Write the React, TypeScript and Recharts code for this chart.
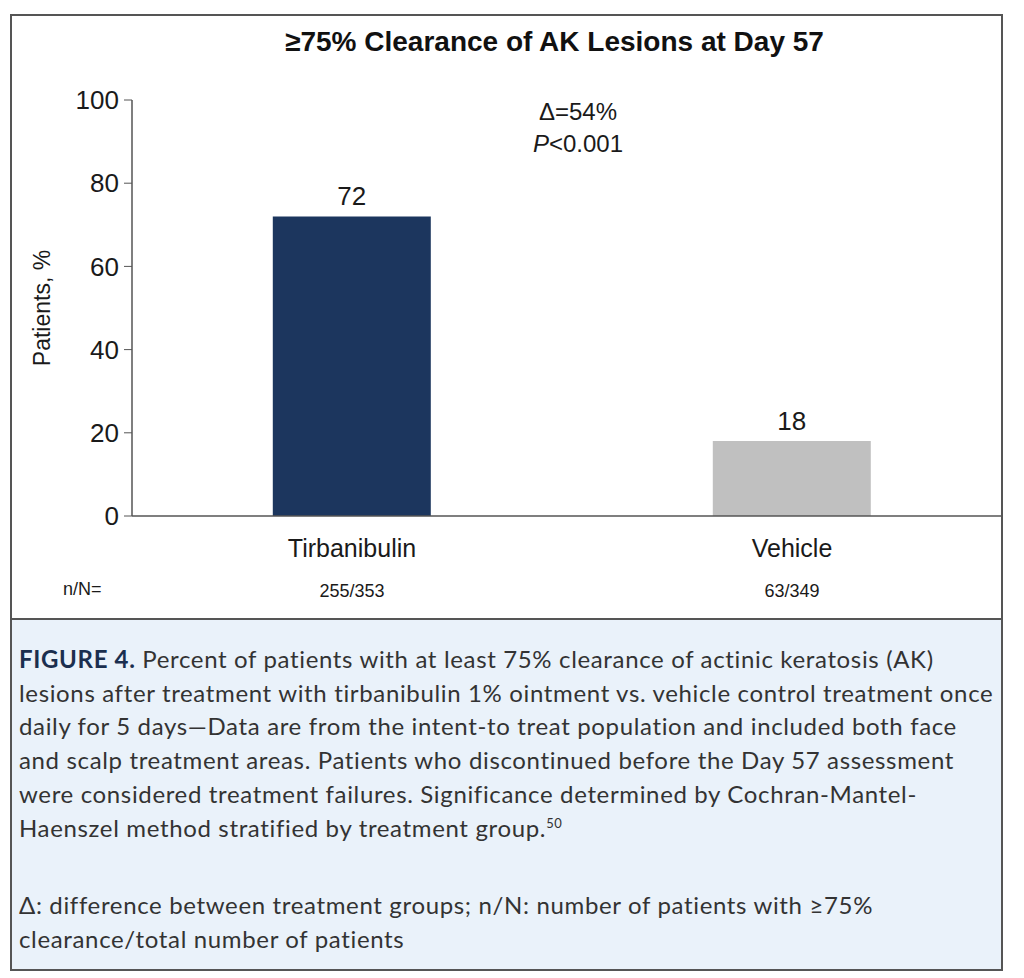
import React from 'react';
import { BarChart, Bar, XAxis, YAxis, Cell, LabelList } from 'recharts';

const categories = ['Tirbanibulin', 'Vehicle'];
const percentValues = [72, 18];
const nOverN = ['255/353', '63/349'];
const barColors = ['#1c365e', '#c0c0c0'];
const yTicks = [0, 20, 40, 60, 80, 100];

const captionLines = [
  'lesions after treatment with tirbanibulin 1% ointment vs. vehicle control treatment once',
  'daily for 5 days\u2014Data are from the intent-to treat population and included both face',
  'and scalp treatment areas. Patients who discontinued before the Day 57 assessment',
  'were considered treatment failures. Significance determined by Cochran-Mantel-',
];
const footLines = [
  '\u0394: difference between treatment groups; n/N: number of patients with \u226575%',
  'clearance/total number of patients',
];

const data = categories.map((name, i) => ({ name, value: percentValues[i], nn: nOverN[i] }));

const arial = 'Arial, "Liberation Sans", sans-serif';
const capFont = 'Lato, "Open Sans", sans-serif';

const CategoryTick = (props: any) => {
  const { x, y, payload, index } = props;
  return (
    <g>
      <text x={x} y={y + 33} textAnchor="middle" fontSize={25} fontFamily={arial} fill="#1a1a1a">
        {payload.value}
      </text>
      <text x={x} y={y + 73} textAnchor="middle" fontSize={18} fontFamily={arial} fill="#1a1a1a">
        {data[index]?.nn}
      </text>
    </g>
  );
};

export default function App() {
  return (
    <div style={{ position: 'relative', width: 1010, height: 970 }}>
      {/* outer frame */}
      <div
        style={{
          position: 'absolute', left: 2, top: 6, width: 993, height: 957,
          border: '2px solid #555', boxSizing: 'border-box', background: '#fff', overflow: 'hidden',
        }}
      >
        <div
          style={{
            position: 'absolute', left: 0, width: '100%', textAlign: 'center',
            paddingLeft: 96, boxSizing: 'border-box',
            top: 10, fontFamily: arial, fontWeight: 'bold', fontSize: 28, color: '#111',
          }}
        >
          ≥75% Clearance of AK Lesions at Day 57
        </div>
        <BarChart
          width={1000}
          height={600}
          data={data}
          margin={{ top: 84, right: 0, bottom: 70, left: 18 }}
          barCategoryGap="32%"
          style={{ position: 'absolute', left: 0, top: 0 }}
        >
          <XAxis
            dataKey="name"
            axisLine={{ stroke: '#555', strokeWidth: 1.5 }}
            tickLine={false}
            tick={<CategoryTick />}
            height={30}
            interval={0}
          />
          <YAxis
            domain={[0, 100]}
            ticks={yTicks}
            width={102}
            axisLine={{ stroke: '#555', strokeWidth: 1.5 }}
            tickLine={{ stroke: '#555' }}
            tickSize={8}
            tickMargin={5}
            tick={{ fontSize: 26, fontFamily: arial, fill: '#1a1a1a' }}
            label={{
              value: 'Patients, %', angle: -90, position: 'insideLeft', offset: 12,
              style: { fontSize: 23, fontFamily: arial, fill: '#1a1a1a', textAnchor: 'middle' },
            }}
          />
          <Bar dataKey="value" isAnimationActive={false}>
            {data.map((d, i) => (
              <Cell key={d.name} fill={barColors[i]} />
            ))}
            <LabelList dataKey="value" position="top" offset={11} style={{ fontSize: 26, fontFamily: arial, fill: '#1a1a1a' }} />
          </Bar>
        </BarChart>
        <div style={{ position: 'absolute', left: 51, top: 563, fontFamily: arial, fontSize: 18, color: '#1a1a1a' }}>n/N=</div>
        <div
          style={{
            position: 'absolute', left: 466, top: 80, width: 200, textAlign: 'center',
            fontFamily: arial, fontSize: 24, color: '#1a1a1a', lineHeight: '32px',
          }}
        >
          <div>Δ=54%</div>
          <div><i>P</i>&lt;0.001</div>
        </div>
        {/* caption */}
        <div
          style={{
            position: 'absolute', left: 0, top: 602, width: '100%', height: 355,
            borderTop: '2px solid #555', boxSizing: 'border-box', background: '#eaf2fa',
            padding: '22px 0 0 7px', fontFamily: capFont, fontSize: 24, letterSpacing: 0.65, color: '#333',
            lineHeight: '33.7px', whiteSpace: 'nowrap',
          }}
        >
          <div>
            <b style={{ color: '#1b2f4f' }}>FIGURE 4.</b> Percent of patients with at least 75% clearance of actinic keratosis (AK)
          </div>
          {captionLines.map((l) => (
            <div key={l}>{l}</div>
          ))}
          <div>
            Haenszel method stratified by treatment group.<sup style={{ fontSize: 13, lineHeight: 0 }}>50</sup>
          </div>
          <div style={{ height: 44 }} />
          {footLines.map((l) => (
            <div key={l}>{l}</div>
          ))}
        </div>
      </div>
    </div>
  );
}
